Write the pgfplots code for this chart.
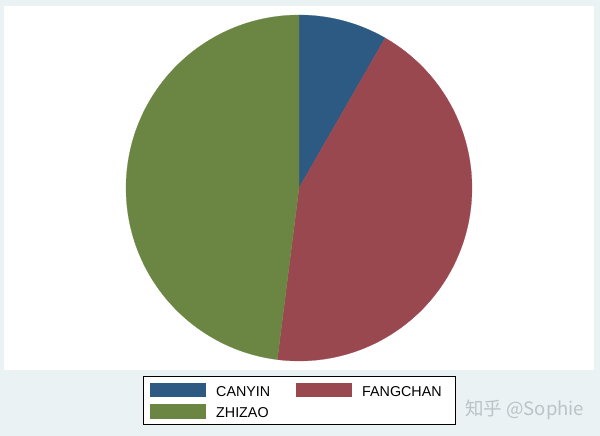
\documentclass[border=0pt]{standalone}
\usepackage{pgfplots}
\pgfplotsset{compat=1.18}
\usepackage{fontspec}
\setmainfont{Liberation Sans}
\newfontfamily\cjk{Noto Sans CJK SC}
\definecolor{canyin}{HTML}{2D5A82}
\definecolor{fangchan}{HTML}{9A4850}
\definecolor{zhizao}{HTML}{6A8642}
\definecolor{outerbg}{HTML}{EAF2F3}
\definecolor{wm}{HTML}{BCC3C7}
% shares (percent)
\def\vA{8.3}  % CANYIN
\def\vB{43.7} % FANGCHAN
\def\vC{48.0} % ZHIZAO
\pgfmathsetmacro\aA{90-3.6*\vA}
\pgfmathsetmacro\aB{\aA-3.6*\vB}
\pgfmathsetmacro\aC{\aB-3.6*\vC}
\begin{document}
\begin{tikzpicture}
\fill[outerbg] (0,0) rectangle (600bp,436bp);
\fill[white] (4bp,66bp) rectangle (594bp,430bp);
\begin{axis}[scale only axis, width=600bp, height=436bp,
  xmin=0, xmax=600, ymin=0, ymax=436, hide axis, clip=false]
\addplot[fill=canyin, draw=canyin, line width=0.2pt, domain=\aA:90, samples=80, variable=\t]
  ({299+173*cos(\t)},{248+173*sin(\t)}) -- (axis cs:299,248) -- cycle;
\addplot[fill=fangchan, draw=fangchan, line width=0.2pt, domain=\aB:\aA, samples=160, variable=\t]
  ({299+173*cos(\t)},{248+173*sin(\t)}) -- (axis cs:299,248) -- cycle;
\addplot[fill=zhizao, draw=zhizao, line width=0.2pt, domain=\aC:\aB, samples=160, variable=\t]
  ({299+173*cos(\t)},{248+173*sin(\t)}) -- (axis cs:299,248) -- cycle;
\end{axis}
% legend
\draw[fill=white, draw=black, line width=0.8bp] (143bp,12bp) rectangle (455bp,60bp);
\fill[canyin] (150bp,39bp) rectangle (206bp,53bp);
\fill[fangchan] (296bp,39bp) rectangle (352bp,53bp);
\fill[zhizao] (150bp,17bp) rectangle (206bp,32bp);
\node[anchor=base west, inner sep=0pt, font=\fontsize{14.3bp}{16bp}\selectfont] at (216bp,39.5bp) {CANYIN};
\node[anchor=base west, inner sep=0pt, font=\fontsize{14.3bp}{16bp}\selectfont] at (362bp,39.5bp) {FANGCHAN};
\node[anchor=base west, inner sep=0pt, font=\fontsize{14.3bp}{16bp}\selectfont] at (216bp,19bp) {ZHIZAO};
% watermark
\node[anchor=base west, inner sep=0pt, text=wm, font=\cjk\fontsize{18.5bp}{20bp}\selectfont] at (465bp,20.5bp) {知乎 @Sophie};
\end{tikzpicture}
\end{document}
